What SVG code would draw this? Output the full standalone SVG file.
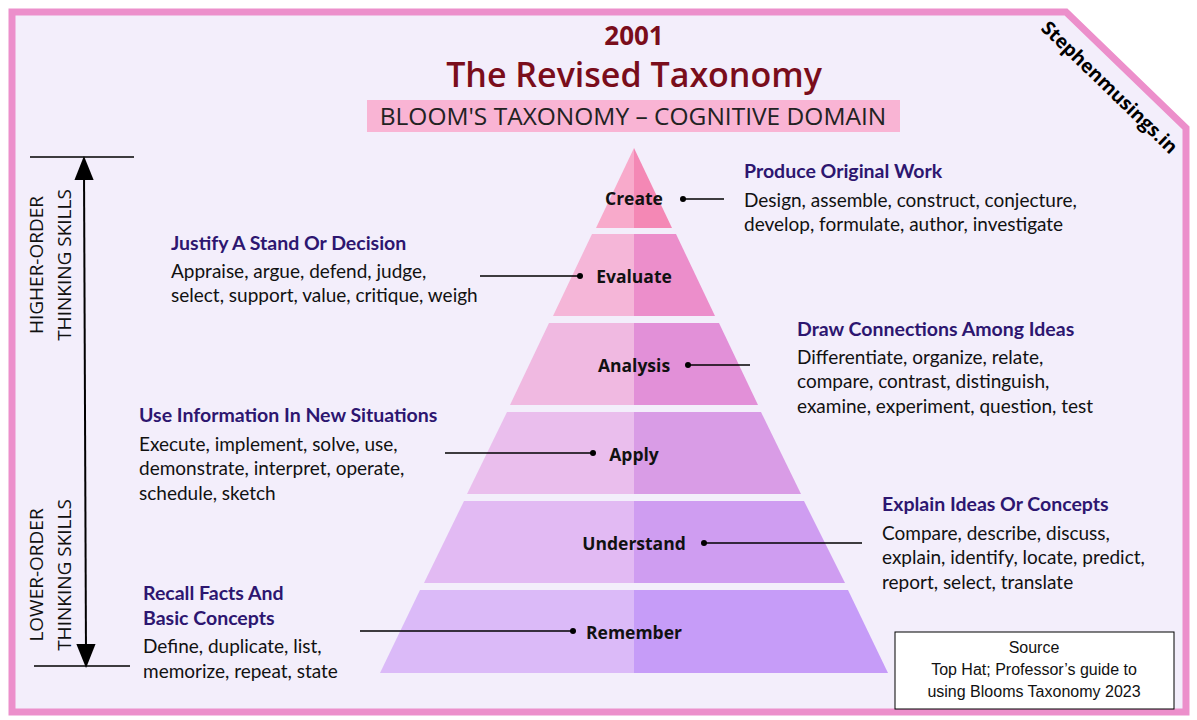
<svg xmlns="http://www.w3.org/2000/svg" width="1197" height="720" viewBox="0 0 1197 720">
<defs><style>
.h{font-family:Lato,"Open Sans",sans-serif;font-weight:bold;font-size:19.5px;fill:#2d1670}
.b{font-family:Lato,"Open Sans",sans-serif;font-size:19px;fill:#111}
.t{font-family:"Open Sans",Lato,sans-serif;font-weight:bold;font-size:17.5px;fill:#111;text-anchor:middle}
.side{font-family:"Open Sans",sans-serif;font-size:19px;fill:#111;text-anchor:middle}
.ln{stroke:#000;stroke-width:1.5;fill:none}
</style>
<marker id="dot" viewBox="0 0 6 6" refX="3" refY="3" markerWidth="4" markerHeight="4"><circle cx="3" cy="3" r="3" fill="#000"/></marker>
<marker id="ah" viewBox="0 0 10 10" refX="5" refY="5" markerWidth="12" markerHeight="12" orient="auto-start-reverse"><path d="M0,1 L10,5 L0,9 Z" fill="#000"/></marker>
</defs>
<rect width="1197" height="720" fill="#fff"/>
<path d="M12,12 H1066 L1186,128 V712 H12 Z" fill="#f3eefb" stroke="#ec8fcb" stroke-width="7"/>
<g id="title">
<text x="634" y="45" font-family="'Open Sans',sans-serif" font-weight="bold" font-size="26" fill="#7a0d1b" text-anchor="middle">2001</text>
<text x="634" y="87" font-family="'Open Sans',sans-serif" font-weight="600" font-size="34" fill="#7a0d1b" text-anchor="middle">The Revised Taxonomy</text>
<rect x="367" y="100" width="533" height="32" fill="#f9b4d4"/>
<text x="633" y="125" font-family="'Open Sans',sans-serif" font-size="24.5" fill="#222" text-anchor="middle">BLOOM'S TAXONOMY – COGNITIVE DOMAIN</text>
</g>
<text transform="translate(1105,92) rotate(44)" font-family="'Open Sans',sans-serif" font-weight="bold" font-size="19" fill="#000" text-anchor="middle">Stephenmusings.in</text>
<g id="pyramid">
<g id="create"><path d="M634,148 L596,228 H634 Z" fill="#f8aacb"/><path d="M634,148 L672,228 H634 Z" fill="#f488b5"/><text class="t" x="634" y="205">Create</text></g>
<g id="evaluate"><path d="M592,234 H634 V316 H553 Z" fill="#f5b6d8"/><path d="M634,234 H676 L715,316 H634 Z" fill="#ec8ecb"/><text class="t" x="634" y="283">Evaluate</text></g>
<g id="analysis"><path d="M549,323 H634 V405 H510 Z" fill="#f0b9e1"/><path d="M634,323 H719 L758,405 H634 Z" fill="#e290d8"/><text class="t" x="634" y="372">Analysis</text></g>
<g id="apply"><path d="M507,412 H634 V494 H467 Z" fill="#eabeed"/><path d="M634,412 H761 L801,494 H634 Z" fill="#d99ce6"/><text class="t" x="634" y="461">Apply</text></g>
<g id="understand"><path d="M464,501 H634 V583 H424 Z" fill="#e2baf3"/><path d="M634,501 H804 L845,583 H634 Z" fill="#cf9df1"/><text class="t" x="634" y="550">Understand</text></g>
<g id="remember"><path d="M420,590 H634 V673 H380 Z" fill="#dbbaf8"/><path d="M634,590 H848 L888,673 H634 Z" fill="#c69cf8"/><text class="t" x="634" y="639">Remember</text></g>
</g>
<g id="connectors">
<line class="ln" x1="724" y1="199" x2="683" y2="199" marker-end="url(#dot)"/>
<line class="ln" x1="480" y1="276" x2="580" y2="276" marker-end="url(#dot)"/>
<line class="ln" x1="750" y1="365" x2="688" y2="365" marker-end="url(#dot)"/>
<line class="ln" x1="445" y1="453" x2="593" y2="453" marker-end="url(#dot)"/>
<line class="ln" x1="862" y1="543" x2="704" y2="543" marker-end="url(#dot)"/>
<line class="ln" x1="360" y1="631" x2="573" y2="631" marker-end="url(#dot)"/>
<line class="ln" x1="30" y1="157" x2="134" y2="157"/>
<line class="ln" x1="34" y1="666" x2="130" y2="666"/>
<line x1="84" y1="168" x2="86" y2="656" stroke="#000" stroke-width="2" marker-start="url(#ah)" marker-end="url(#ah)"/>
</g>
<g id="side-labels">
<text class="side" transform="translate(43,265) rotate(-90)">HIGHER-ORDER</text>
<text class="side" transform="translate(71,265) rotate(-90)">THINKING SKILLS</text>
<text class="side" transform="translate(43,575) rotate(-90)">LOWER-ORDER</text>
<text class="side" transform="translate(71,575) rotate(-90)">THINKING SKILLS</text>
</g>
<g id="desc-create"><text class="h" x="744" y="178">Produce Original Work</text><text class="b" x="744" y="207">Design, assemble, construct, conjecture,</text><text class="b" x="744" y="231">develop, formulate, author, investigate</text></g>
<g id="desc-evaluate"><text class="h" x="171" y="250">Justify A Stand Or Decision</text><text class="b" x="171" y="278">Appraise, argue, defend, judge,</text><text class="b" x="171" y="302">select, support, value, critique, weigh</text></g>
<g id="desc-analysis"><text class="h" x="797" y="336">Draw Connections Among Ideas</text><text class="b" x="797" y="364">Differentiate, organize, relate,</text><text class="b" x="797" y="388">compare, contrast, distinguish,</text><text class="b" x="797" y="413">examine, experiment, question, test</text></g>
<g id="desc-apply"><text class="h" x="139" y="422">Use Information In New Situations</text><text class="b" x="139" y="451">Execute, implement, solve, use,</text><text class="b" x="139" y="475">demonstrate, interpret, operate,</text><text class="b" x="139" y="500">schedule, sketch</text></g>
<g id="desc-understand"><text class="h" x="882" y="511">Explain Ideas Or Concepts</text><text class="b" x="882" y="540">Compare, describe, discuss,</text><text class="b" x="882" y="564">explain, identify, locate, predict,</text><text class="b" x="882" y="589">report, select, translate</text></g>
<g id="desc-remember"><text class="h" x="143" y="600">Recall Facts And</text><text class="h" x="143" y="625">Basic Concepts</text><text class="b" x="143" y="653">Define, duplicate, list,</text><text class="b" x="143" y="678">memorize, repeat, state</text></g>
<g id="source"><rect x="895" y="632" width="279" height="77" fill="#fff" stroke="#000" stroke-width="1"/>
<text font-family="'Liberation Sans',Arial,sans-serif" font-size="16" fill="#111" text-anchor="middle"><tspan x="1034" y="653">Source</tspan><tspan x="1034" y="675">Top Hat; Professor’s guide to</tspan><tspan x="1034" y="697">using Blooms Taxonomy 2023</tspan></text></g>
</svg>
